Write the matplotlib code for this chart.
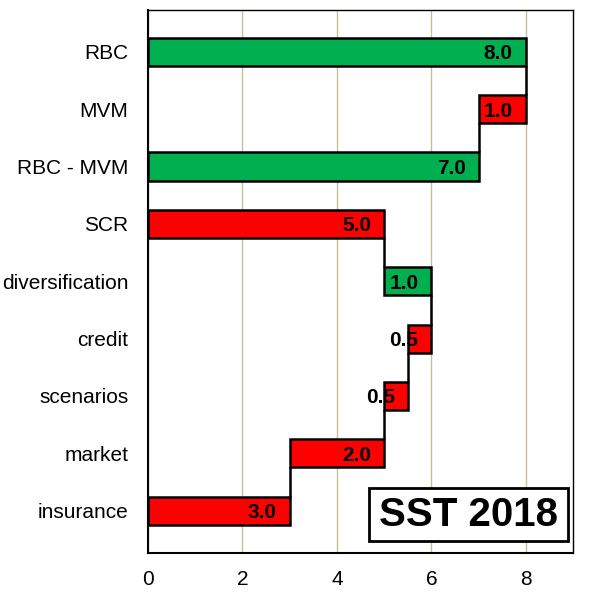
import matplotlib
matplotlib.use("Agg")
import matplotlib.pyplot as plt
from matplotlib.patches import Rectangle

# Data (bottom to top)
categories = ["insurance", "market", "scenarios", "credit", "diversification",
              "SCR", "RBC - MVM", "MVM", "RBC"]
values = [3.0, 2.0, 0.5, 0.5, 1.0, 5.0, 7.0, 1.0, 8.0]
starts = [0.0, 3.0, 5.0, 5.5, 5.0, 0.0, 0.0, 7.0, 0.0]
kinds = ["neg", "neg", "neg", "neg", "pos", "neg", "pos", "neg", "pos"]
xticks = [0, 2, 4, 6, 8]
title_box = "SST 2018"

color_map = {"neg": "#FF0000", "pos": "#00B050"}
font = "Liberation Sans"
plt.rcParams["font.family"] = [font, "DejaVu Sans"]

fig = plt.figure(figsize=(5.92, 5.93), dpi=100)
ax = fig.add_axes([148/592, 1-553/593, (573-148)/592, (553-10)/593])

ypos = list(range(len(categories)))
bar_h = 0.49
ax.barh(ypos, values, left=starts, height=bar_h,
        color=[color_map[k] for k in kinds], edgecolor="black", linewidth=1.8, zorder=3)

# connectors
for i in range(len(categories) - 1):
    e1 = {starts[i], starts[i] + values[i]}
    e2 = {starts[i+1], starts[i+1] + values[i+1]}
    common = sorted(e1 & e2)
    if common:
        cx = common[-1]
        if cx == 0:
            continue
        ax.plot([cx, cx], [ypos[i] + bar_h/2, ypos[i+1] - bar_h/2],
                color="black", linewidth=1.8, zorder=2, solid_capstyle="butt")

# value labels
for y, s, v in zip(ypos, starts, values):
    ax.annotate(f"{v:.1f}", xy=(s + v, y), xytext=(-9.4, -5.3), textcoords="offset points",
                ha="right", va="baseline", fontsize=15, fontweight="bold", zorder=4)

ax.set_xlim(0, 9)
ax.set_ylim(-0.74, len(categories) - 1 + 0.73)
ax.set_yticks(ypos)
ax.set_yticklabels(categories)
ax.set_xticks(xticks)
ax.set_xticklabels([str(t) for t in xticks])
ax.tick_params(axis="both", length=0, labelsize=15)
ax.tick_params(axis="y", pad=14)
ax.tick_params(axis="x", pad=12)
ax.grid(axis="x", color="#C8BE96", linewidth=1, zorder=0)
ax.grid(axis="y", visible=False)
ax.set_axisbelow(True)
for side in ["top", "right"]:
    ax.spines[side].set_linewidth(1.0)
for side in ["left", "bottom"]:
    ax.spines[side].set_linewidth(1.5)

# title box
bx0 = (369 - 148) / 425
bw = (568 - 369) / 425
by0 = (553 - 541) / 543
bh = (541 - 488) / 543
ax.add_patch(Rectangle((bx0, by0), bw, bh, transform=ax.transAxes, facecolor="white",
                       edgecolor="black", linewidth=2, zorder=5))
ax.text(bx0 + bw/2, by0 + bh/2, title_box, transform=ax.transAxes, ha="center", va="center",
        fontsize=29, fontweight="bold", zorder=6)

fig.savefig("out.png", dpi=100)
